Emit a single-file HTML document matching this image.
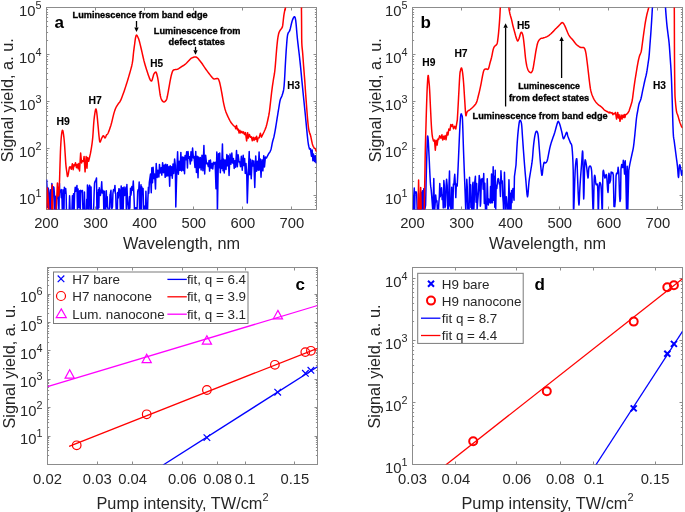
<!DOCTYPE html>
<html><head><meta charset="utf-8"><style>
html,body{margin:0;padding:0;background:#fff;}
svg{display:block;}
</style></head><body>
<svg width="685" height="512" viewBox="0 0 685 512" font-family="&quot;Liberation Sans&quot;, sans-serif">
<rect width="685" height="512" fill="#fff"/>
<rect x="46.5" y="7.5" width="270.0" height="202.0" fill="none" stroke="#8c8c8c" stroke-width="1"/>
<path d="M95.5,209.5v-3M95.5,7.5v3M144.5,209.5v-3M144.5,7.5v3M193.5,209.5v-3M193.5,7.5v3M242.5,209.5v-3M242.5,7.5v3M291.5,209.5v-3M291.5,7.5v3" stroke="#8c8c8c" stroke-width="1" fill="none"/>
<path d="M46.5,195.5h3M316.5,195.5h-3M46.5,148.5h3M316.5,148.5h-3M46.5,101.5h3M316.5,101.5h-3M46.5,54.5h3M316.5,54.5h-3" stroke="#8c8c8c" stroke-width="1" fill="none"/>
<path d="M46.5,205.5h1.6M316.5,205.5h-1.6M46.5,202.5h1.6M316.5,202.5h-1.6M46.5,200.5h1.6M316.5,200.5h-1.6M46.5,197.5h1.6M316.5,197.5h-1.6M46.5,181.5h1.6M316.5,181.5h-1.6M46.5,173.5h1.6M316.5,173.5h-1.6M46.5,167.5h1.6M316.5,167.5h-1.6M46.5,162.5h1.6M316.5,162.5h-1.6M46.5,158.5h1.6M316.5,158.5h-1.6M46.5,155.5h1.6M316.5,155.5h-1.6M46.5,153.5h1.6M316.5,153.5h-1.6M46.5,150.5h1.6M316.5,150.5h-1.6M46.5,134.5h1.6M316.5,134.5h-1.6M46.5,126.5h1.6M316.5,126.5h-1.6M46.5,120.5h1.6M316.5,120.5h-1.6M46.5,115.5h1.6M316.5,115.5h-1.6M46.5,111.5h1.6M316.5,111.5h-1.6M46.5,108.5h1.6M316.5,108.5h-1.6M46.5,106.5h1.6M316.5,106.5h-1.6M46.5,103.5h1.6M316.5,103.5h-1.6M46.5,87.5h1.6M316.5,87.5h-1.6M46.5,79.5h1.6M316.5,79.5h-1.6M46.5,73.5h1.6M316.5,73.5h-1.6M46.5,68.5h1.6M316.5,68.5h-1.6M46.5,64.5h1.6M316.5,64.5h-1.6M46.5,61.5h1.6M316.5,61.5h-1.6M46.5,59.5h1.6M316.5,59.5h-1.6M46.5,56.5h1.6M316.5,56.5h-1.6M46.5,40.5h1.6M316.5,40.5h-1.6M46.5,32.5h1.6M316.5,32.5h-1.6M46.5,26.5h1.6M316.5,26.5h-1.6M46.5,21.5h1.6M316.5,21.5h-1.6M46.5,17.5h1.6M316.5,17.5h-1.6M46.5,14.5h1.6M316.5,14.5h-1.6M46.5,12.5h1.6M316.5,12.5h-1.6M46.5,9.5h1.6M316.5,9.5h-1.6" stroke="#8c8c8c" stroke-width="1" fill="none"/>
<text x="46.5" y="227.6" font-size="14.8" text-anchor="middle" font-weight="normal" fill="#262626" >200</text>
<text x="95.59" y="227.6" font-size="14.8" text-anchor="middle" font-weight="normal" fill="#262626" >300</text>
<text x="144.68" y="227.6" font-size="14.8" text-anchor="middle" font-weight="normal" fill="#262626" >400</text>
<text x="193.77" y="227.6" font-size="14.8" text-anchor="middle" font-weight="normal" fill="#262626" >500</text>
<text x="242.86" y="227.6" font-size="14.8" text-anchor="middle" font-weight="normal" fill="#262626" >600</text>
<text x="291.95" y="227.6" font-size="14.8" text-anchor="middle" font-weight="normal" fill="#262626" >700</text>
<text x="41.5" y="203.6" font-size="14.8" text-anchor="end" fill="#262626">10<tspan font-size="10.8" dy="-7">1</tspan></text>
<text x="41.5" y="156.6" font-size="14.8" text-anchor="end" fill="#262626">10<tspan font-size="10.8" dy="-7">2</tspan></text>
<text x="41.5" y="109.6" font-size="14.8" text-anchor="end" fill="#262626">10<tspan font-size="10.8" dy="-7">3</tspan></text>
<text x="41.5" y="62.6" font-size="14.8" text-anchor="end" fill="#262626">10<tspan font-size="10.8" dy="-7">4</tspan></text>
<text x="41.5" y="15.6" font-size="14.8" text-anchor="end" fill="#262626">10<tspan font-size="10.8" dy="-7">5</tspan></text>
<rect x="412.5" y="7.5" width="270.0" height="202.0" fill="none" stroke="#8c8c8c" stroke-width="1"/>
<path d="M461.5,209.5v-3M461.5,7.5v3M510.5,209.5v-3M510.5,7.5v3M559.5,209.5v-3M559.5,7.5v3M608.5,209.5v-3M608.5,7.5v3M657.5,209.5v-3M657.5,7.5v3" stroke="#8c8c8c" stroke-width="1" fill="none"/>
<path d="M412.5,195.5h3M682.5,195.5h-3M412.5,148.5h3M682.5,148.5h-3M412.5,101.5h3M682.5,101.5h-3M412.5,54.5h3M682.5,54.5h-3" stroke="#8c8c8c" stroke-width="1" fill="none"/>
<path d="M412.5,205.5h1.6M682.5,205.5h-1.6M412.5,202.5h1.6M682.5,202.5h-1.6M412.5,200.5h1.6M682.5,200.5h-1.6M412.5,197.5h1.6M682.5,197.5h-1.6M412.5,181.5h1.6M682.5,181.5h-1.6M412.5,173.5h1.6M682.5,173.5h-1.6M412.5,167.5h1.6M682.5,167.5h-1.6M412.5,162.5h1.6M682.5,162.5h-1.6M412.5,158.5h1.6M682.5,158.5h-1.6M412.5,155.5h1.6M682.5,155.5h-1.6M412.5,153.5h1.6M682.5,153.5h-1.6M412.5,150.5h1.6M682.5,150.5h-1.6M412.5,134.5h1.6M682.5,134.5h-1.6M412.5,126.5h1.6M682.5,126.5h-1.6M412.5,120.5h1.6M682.5,120.5h-1.6M412.5,115.5h1.6M682.5,115.5h-1.6M412.5,111.5h1.6M682.5,111.5h-1.6M412.5,108.5h1.6M682.5,108.5h-1.6M412.5,106.5h1.6M682.5,106.5h-1.6M412.5,103.5h1.6M682.5,103.5h-1.6M412.5,87.5h1.6M682.5,87.5h-1.6M412.5,79.5h1.6M682.5,79.5h-1.6M412.5,73.5h1.6M682.5,73.5h-1.6M412.5,68.5h1.6M682.5,68.5h-1.6M412.5,64.5h1.6M682.5,64.5h-1.6M412.5,61.5h1.6M682.5,61.5h-1.6M412.5,59.5h1.6M682.5,59.5h-1.6M412.5,56.5h1.6M682.5,56.5h-1.6M412.5,40.5h1.6M682.5,40.5h-1.6M412.5,32.5h1.6M682.5,32.5h-1.6M412.5,26.5h1.6M682.5,26.5h-1.6M412.5,21.5h1.6M682.5,21.5h-1.6M412.5,17.5h1.6M682.5,17.5h-1.6M412.5,14.5h1.6M682.5,14.5h-1.6M412.5,12.5h1.6M682.5,12.5h-1.6M412.5,9.5h1.6M682.5,9.5h-1.6" stroke="#8c8c8c" stroke-width="1" fill="none"/>
<text x="412.5" y="227.6" font-size="14.8" text-anchor="middle" font-weight="normal" fill="#262626" >200</text>
<text x="461.59" y="227.6" font-size="14.8" text-anchor="middle" font-weight="normal" fill="#262626" >300</text>
<text x="510.68" y="227.6" font-size="14.8" text-anchor="middle" font-weight="normal" fill="#262626" >400</text>
<text x="559.77" y="227.6" font-size="14.8" text-anchor="middle" font-weight="normal" fill="#262626" >500</text>
<text x="608.86" y="227.6" font-size="14.8" text-anchor="middle" font-weight="normal" fill="#262626" >600</text>
<text x="657.95" y="227.6" font-size="14.8" text-anchor="middle" font-weight="normal" fill="#262626" >700</text>
<text x="407.5" y="203.6" font-size="14.8" text-anchor="end" fill="#262626">10<tspan font-size="10.8" dy="-7">1</tspan></text>
<text x="407.5" y="156.6" font-size="14.8" text-anchor="end" fill="#262626">10<tspan font-size="10.8" dy="-7">2</tspan></text>
<text x="407.5" y="109.6" font-size="14.8" text-anchor="end" fill="#262626">10<tspan font-size="10.8" dy="-7">3</tspan></text>
<text x="407.5" y="62.6" font-size="14.8" text-anchor="end" fill="#262626">10<tspan font-size="10.8" dy="-7">4</tspan></text>
<text x="407.5" y="15.6" font-size="14.8" text-anchor="end" fill="#262626">10<tspan font-size="10.8" dy="-7">5</tspan></text>
<text transform="translate(13.2,100.2) rotate(-90)" x="0" y="0" font-size="16.3" text-anchor="middle" fill="#262626">Signal yield, a. u.</text>
<text transform="translate(381.3,100.2) rotate(-90)" x="0" y="0" font-size="16.3" text-anchor="middle" fill="#262626">Signal yield, a. u.</text>
<text x="181.5" y="248.7" font-size="16.3" text-anchor="middle" font-weight="normal" fill="#262626" >Wavelength, nm</text>
<text x="547.5" y="248.7" font-size="16.3" text-anchor="middle" font-weight="normal" fill="#262626" >Wavelength, nm</text>
<defs><clipPath id="ca"><rect x="46.5" y="7.5" width="270" height="202"/></clipPath><clipPath id="cb"><rect x="412.5" y="7.5" width="270" height="202"/></clipPath><clipPath id="cc"><rect x="47.5" y="267.5" width="270" height="197"/></clipPath><clipPath id="cd"><rect x="412.5" y="267.5" width="270" height="197"/></clipPath></defs>
<g clip-path="url(#ca)" fill="none" stroke-width="1.5" stroke-linejoin="round">
<path d="M46.6,179.5 L47.19,190.03 L47.68,207.36 L48.15,187.99 L48.72,189.93 L49.28,197.96 L49.72,213.02 L50.21,195.51 L50.67,189.69 L51.3,209.58 L51.88,183.49 L52.42,211.14 L53,194.36 L53.47,186.83 L53.91,187.48 L54.38,193.21 L54.95,217.05 L55.36,196.2 L55.9,215.44 L56.49,210.43 L56.86,197.33 L57.25,198.57 L57.89,192.57 L58.45,187.4 L58.91,214.03 L59.42,183.21 L59.81,191.97 L60.28,189.9 L60.69,190.5 L61.31,197.74 L61.8,189.47 L62.43,217.37 L63.03,215.84 L63.46,190.11 L63.98,212.99 L64.36,187.34 L64.74,188.96 L65.29,193.17 L65.71,188.5 L66.16,194.83 L66.55,216.62 L67.2,212.45 L67.82,213.06 L68.22,212.46 L68.57,210.99 L69.17,210.86 L69.6,195.68 L70.18,212.2 L70.58,212.78 L71.22,210.08 L71.8,213.96 L72.41,195.71 L72.96,213.38 L73.55,193.81 L74.16,210.69 L74.61,193.94 L75.23,187.3 L75.85,191.19 L76.39,190.15 L76.96,185.61 L77.44,209.36 L78.06,188.92 L78.59,207.62 L79.13,193.77 L79.69,190.64 L80.24,212.93 L80.8,190.2 L81.43,191.89 L82.03,191.72 L82.44,190.45 L83.06,215.62 L83.68,212.73 L84.09,216.91 L84.44,192.06 L84.84,212.24 L85.3,214.96 L85.67,211.92 L86.22,214.81 L86.73,199.3 L87.08,208.78 L87.45,184.94 L87.93,187.92 L88.29,197.87 L88.64,213.54 L89.23,189 L89.59,185.18 L90.01,186.68 L90.45,213.11 L91.07,187.02 L91.46,214.77 L91.9,217.5 L92.27,215.11 L92.77,215.12 L93.14,211 L93.63,208.46 L94.14,192.8 L94.55,183.21 L95.11,181.26 L95.7,180.91 L96.5,178 L96.95,212.36 L97.45,192.67 L97.83,213.54 L98.4,189.73 L98.86,207.77 L99.27,187.87 L99.91,192.97 L100.41,195.41 L100.97,191.64 L101.33,187.46 L101.72,181.77 L102.2,192.99 L102.81,190.3 L103.38,191.28 L103.85,212.93 L104.47,191.3 L104.83,214.15 L105.35,215.74 L105.89,206.47 L106.29,190.63 L106.79,206.44 L107.23,196.64 L107.58,206.59 L108.09,209.37 L108.64,211.99 L109.07,215.14 L109.53,210.43 L110.04,194.65 L110.41,193.5 L110.98,190.29 L111.45,207.39 L111.9,208.82 L112.47,206.82 L112.94,193.1 L113.52,189.51 L113.92,190.68 L114.51,190.87 L114.94,185.38 L115.34,193.14 L115.7,192.98 L116.34,216.77 L116.91,213.73 L117.27,216.13 L117.72,192.43 L118.26,197.89 L118.86,188.86 L119.4,188.92 L119.84,193.2 L120.45,213.26 L120.82,194.98 L121.21,185.9 L121.77,208.76 L122.27,209.35 L122.71,187.83 L123.06,214.72 L123.54,193.04 L124.09,186.98 L124.68,195.4 L125.08,193.98 L125.48,190.54 L125.96,187.27 L126.33,209.63 L126.89,184.46 L127.33,195.81 L127.7,201.3 L128.26,207.63 L128.61,217.35 L129.11,213.17 L129.47,196.72 L129.86,208.21 L130.51,188.14 L130.91,195.16 L131.34,192.37 L131.83,186.6 L132.23,189.34 L132.68,190.21 L133.28,180.93 L133.92,194.65 L134.55,211.73 L135.06,210.44 L135.69,207.65 L136.05,212.39 L136.66,213.23 L137.16,207.17 L137.7,191.38 L138.23,189.57 L138.78,189.59 L139.18,181.96 L139.61,217.3 L140.17,206.04 L140.62,188.53 L141.01,184.86 L141.38,210.71 L141.87,187.07 L142.48,194.29 L143.07,188.48 L143.71,213.56 L144.32,217.21 L144.93,206.07 L145.54,215.54 L145.9,191.34 L146.38,208.29 L146.92,210.79 L147.36,217.08 L147.88,199.02 L148.42,187.29 L148.82,193.16 L149.33,182.36 L150.5,174.09 L151.26,192.83 L151.82,167.7 L152.51,182.77 L153.11,167.18 L153.88,178.52 L154.62,174.09 L155.5,188.94 L156.2,163.62 L157.14,177.56 L157.94,170.21 L158.89,177.04 L159.47,164.4 L160.22,172.91 L161.18,167.7 L161.8,175.11 L162.61,162.67 L163.4,172.75 L164.34,164.88 L165.17,177.36 L165.8,164.13 L166.67,176.09 L167.4,164.71 L168,175.82 L168.96,166.69 L169.66,186.26 L170.2,165.7 L170.97,175.6 L171.62,166.64 L172.3,178.25 L173.02,163.97 L173.72,173.39 L174.61,159 L175.31,165.22 L175.8,207 L176.81,171.34 L177.61,151.66 L178.37,174.26 L179.21,161.29 L180.05,170.35 L180.86,152.39 L181.61,170.96 L182.42,156.96 L183.23,170.55 L183.85,157.26 L184.55,173.8 L185.12,155.45 L185.87,159.71 L186.66,151.7 L187.45,167.98 L188.04,151.55 L188.71,158.31 L189.47,156.79 L190.33,164.05 L190.98,151.82 L191.69,160.78 L192.58,148.06 L193.39,158 L194.04,156.45 L194.97,167.45 L195.75,151.44 L196.43,172.45 L197.22,156.28 L198.03,177.83 L198.6,156.96 L199.56,167.7 L200.25,157.42 L201.12,169.95 L202,155.14 L202.95,170.67 L203.91,145.41 L204.67,173.94 L205.64,155.3 L206.54,163.71 L207.41,163.07 L208.35,166.48 L209.04,160.55 L209.6,171.12 L210.44,160.11 L211.25,168.17 L212.06,163.6 L212.77,168.91 L213.46,162.3 L214.2,163.99 L215.12,162.2 L216,188.77 L216.82,151.95 L217.4,212 L218.46,153.87 L219.2,167.8 L219.74,153.07 L220.34,172.73 L221,160.6 L221.58,168.44 L222.45,143.9 L223.03,170.8 L223.67,159.18 L224.25,172.92 L225.18,159.91 L226.01,169.54 L226.85,154.53 L227.47,165.64 L228.23,155.79 L229.07,175.5 L230.02,154.05 L230.94,164.24 L231.83,153.07 L232.57,163 L233.45,158.55 L234.19,168.49 L234.88,160.81 L235.64,167.14 L236.51,150.61 L237.36,166.67 L238.12,154.77 L239.06,162 L239.7,161.71 L240.51,166.63 L241.35,156.3 L242.25,170.3 L243.19,155.29 L243.73,165.51 L244.63,158.46 L245.26,173.38 L245.98,163.4 L246.75,174.63 L247.3,203 L248.37,170.78 L249.21,151.59 L249.73,174.66 L250.36,159.13 L251.23,178.74 L252.18,160.19 L252.89,166.03 L253.82,160.87 L254.77,187.44 L255.7,155.91 L256.6,171.23 L257.46,161.16 L258.27,170.21 L259.1,152.09 L259.64,170.04 L260.26,158.91 L261.02,177.26 L261.96,159.69 L262.88,170.87 L263.75,155.65 L264.47,166.97 L265.4,157 L266.5,158 L266.85,157.28 L267.36,156.25 L267.93,155.09 L268.5,154 L269.07,153.09 L269.67,152.25 L270.26,151.28 L270.8,150 L271.27,148.22 L271.7,146.09 L272.1,143.92 L272.5,142 L272.89,140.52 L273.26,139.28 L273.62,138.03 L274,136.5 L274.39,134.64 L274.79,132.58 L275.19,130.36 L275.6,128 L276.02,125.42 L276.46,122.64 L276.89,119.84 L277.3,117.2 L277.69,114.76 L278.07,112.43 L278.44,110.18 L278.8,108 L279.14,105.85 L279.46,103.76 L279.8,101.79 L280.2,100 L280.71,98.54 L281.28,97.34 L281.87,96.11 L282.4,94.6 L282.86,93.08 L283.29,91.57 L283.7,89.43 L284.1,86 L284.5,80.51 L284.89,73.51 L285.26,66.31 L285.6,60.2 L285.88,55.55 L286.13,51.65 L286.35,48.23 L286.6,45 L286.84,41.88 L287.07,39.02 L287.35,36.5 L287.7,34.4 L288.17,32.98 L288.74,32.12 L289.33,31.33 L289.9,30.1 L290.43,28.16 L290.95,25.82 L291.47,23.48 L292,21.5 L292.56,19.86 L293.14,18.39 L293.7,17.3 L294.2,16.8 L294.62,16.77 L294.98,17.16 L295.33,18.27 L295.7,20.4 L296.09,23.84 L296.48,28.36 L296.91,33.48 L297.4,38.7 L297.99,43.95 L298.64,49.48 L299.33,55.27 L300,61.3 L300.65,67.67 L301.29,74.35 L301.94,81.16 L302.6,87.9 L303.27,94.55 L303.95,101.21 L304.63,107.86 L305.3,114.5 L305.98,121.57 L306.67,128.91 L307.32,135.68 L307.9,141 L308.41,144.49 L308.86,146.66 L309.24,148 L309.5,149 L310.5,148.82 L311.45,156.15 L312.14,149.89 L312.89,160.68 L313.47,154.04 L314.51,161.43 L315.18,155.85 L316.21,163.42" stroke="#0000ff"/>
<path d="M46.6,212 L47.3,188 L48.2,199 L49,212 L50.5,213 L51.6,212 L52.2,185 L52.9,212 L54.5,213 L55.8,212 L56.5,204 L57.4,183 L58.2,196 L58.8,195 L58.8,195 L58.91,193.44 L59.06,191.25 L59.24,188.44 L59.4,185 L59.55,180.63 L59.7,175.44 L59.85,170.02 L60,165 L60.15,160.42 L60.29,156 L60.44,151.83 L60.6,148 L60.78,144.5 L60.98,141.29 L61.18,138.44 L61.4,136 L61.64,133.94 L61.89,132.23 L62.15,130.99 L62.4,130.3 L62.63,130.25 L62.85,130.76 L63.07,131.72 L63.3,133 L63.55,134.65 L63.81,136.7 L64.06,139.03 L64.3,141.5 L64.51,144.15 L64.71,147.03 L64.9,150.02 L65.1,153 L65.3,156.08 L65.49,159.28 L65.69,162.34 L65.9,165 L66.12,167.16 L66.36,168.97 L66.59,170.54 L66.8,172 L66.99,173.46 L67.16,174.84 L67.32,175.93 L67.5,176.5 L67.69,176.47 L67.88,175.95 L68.08,175.08 L68.3,174 L68.58,172.46 L68.9,170.49 L69.2,168.6 L69.4,167.3 L70.2,166.69 L71.28,169.34 L72.36,163.65 L73.17,169.64 L73.97,164.74 L74.58,165.88 L75.45,162.7 L76.45,167.67 L77.28,164.22 L78.08,168.65 L78.8,163.57 L79.54,170.99 L80.64,153.09 L81.6,162.98 L82.34,160.69 L83.43,161.45 L84.08,156.39 L85.07,171.87 L86.14,156.59 L87,168.22 L87.63,157.53 L88.66,161.33 L90.5,153.2 L90.72,151.95 L91.03,150.17 L91.38,148.11 L91.7,146 L91.98,144.02 L92.25,142 L92.52,139.68 L92.8,136.8 L93.08,132.99 L93.36,128.5 L93.66,123.96 L94,120 L94.4,116.54 L94.86,113.31 L95.31,110.73 L95.7,109.2 L96.01,108.93 L96.28,109.67 L96.53,111.12 L96.8,113 L97.1,115.47 L97.41,118.61 L97.71,121.96 L98,125.1 L98.27,128.02 L98.52,130.93 L98.76,133.65 L99,136 L99.23,138.03 L99.44,139.81 L99.66,141.18 L99.9,142 L100.17,142.06 L100.46,141.5 L100.74,140.69 L101,140 L101.2,139.51 L101.37,139.02 L101.55,138.52 L101.8,138 L102.14,137.34 L102.55,136.58 L102.98,135.96 L103.4,135.7 L103.8,136.08 L104.21,136.89 L104.61,137.69 L105,138 L105.38,137.59 L105.76,136.75 L106.13,135.78 L106.5,135 L106.86,134.57 L107.22,134.29 L107.59,133.95 L108,133.3 L108.47,132.23 L108.99,130.87 L109.52,129.4 L110,128 L110.41,126.79 L110.78,125.66 L111.16,124.39 L111.6,122.8 L112.13,120.66 L112.72,118.14 L113.32,115.6 L113.9,113.4 L114.43,111.63 L114.94,110.11 L115.45,108.76 L116,107.5 L116.61,106.34 L117.26,105.31 L117.9,104.37 L118.5,103.5 L119.01,102.83 L119.47,102.33 L119.94,101.72 L120.5,100.7 L121.18,99.14 L121.94,97.22 L122.73,95.11 L123.5,93 L124.23,90.93 L124.94,88.81 L125.66,86.61 L126.4,84.3 L127.17,81.85 L127.96,79.28 L128.74,76.65 L129.5,74 L130.26,71.34 L131.01,68.66 L131.71,65.94 L132.3,63.2 L132.74,60.34 L133.06,57.39 L133.33,54.55 L133.6,52 L133.87,49.84 L134.12,47.96 L134.36,46.22 L134.6,44.5 L134.83,42.72 L135.05,40.96 L135.27,39.35 L135.5,38 L135.74,36.91 L135.97,36.03 L136.23,35.4 L136.5,35.1 L136.8,35.19 L137.12,35.62 L137.45,36.26 L137.8,37 L138.14,37.74 L138.49,38.56 L138.87,39.6 L139.3,41 L139.79,42.85 L140.34,45.07 L140.91,47.5 L141.5,50 L142.1,52.65 L142.73,55.47 L143.37,58.29 L144,60.9 L144.63,63.26 L145.27,65.47 L145.9,67.54 L146.5,69.5 L147.09,71.35 L147.66,73.09 L148.2,74.69 L148.7,76.1 L149.15,77.34 L149.55,78.41 L149.93,79.31 L150.3,80 L150.67,80.53 L151.02,80.88 L151.36,81 L151.7,80.8 L152.04,80.16 L152.38,79.15 L152.7,78.02 L153,77 L153.25,76.12 L153.46,75.27 L153.69,74.48 L154,73.8 L154.43,73.16 L154.94,72.57 L155.46,72.17 L155.9,72.1 L156.23,72.46 L156.51,73.16 L156.75,74.05 L157,75 L157.25,75.94 L157.49,76.96 L157.74,78.14 L158,79.6 L158.29,81.44 L158.59,83.59 L158.9,85.84 L159.2,88 L159.49,90.11 L159.78,92.24 L160.07,94.26 L160.4,96 L160.76,97.44 L161.16,98.66 L161.57,99.67 L162,100.5 L162.46,101.12 L162.95,101.54 L163.44,101.78 L163.9,101.9 L164.33,101.88 L164.73,101.7 L165.12,101.4 L165.5,101 L165.85,100.63 L166.19,100.23 L166.53,99.57 L166.9,98.4 L167.32,96.53 L167.78,94.12 L168.25,91.51 L168.7,89 L169.14,86.57 L169.57,84.09 L170,81.72 L170.4,79.6 L170.77,77.77 L171.12,76.16 L171.46,74.74 L171.8,73.5 L172.13,72.44 L172.44,71.57 L172.79,70.86 L173.2,70.3 L173.71,69.92 L174.29,69.72 L174.9,69.62 L175.5,69.5 L176.08,69.41 L176.65,69.38 L177.25,69.31 L177.9,69.1 L178.6,68.71 L179.35,68.19 L180.15,67.6 L181,67 L181.96,66.39 L183.01,65.75 L184.05,65.08 L185,64.4 L185.82,63.7 L186.58,62.97 L187.29,62.23 L188,61.5 L188.73,60.73 L189.45,59.94 L190.15,59.2 L190.8,58.6 L191.39,58.19 L191.92,57.91 L192.44,57.7 L193,57.5 L193.62,57.28 L194.28,57.08 L194.92,56.93 L195.5,56.9 L196,57 L196.45,57.19 L196.87,57.47 L197.3,57.8 L197.7,58.16 L198.08,58.57 L198.49,59.07 L199,59.7 L199.66,60.5 L200.43,61.44 L201.23,62.46 L202,63.5 L202.7,64.53 L203.38,65.59 L204.09,66.7 L204.9,67.9 L205.84,69.23 L206.88,70.66 L207.95,72.11 L209,73.5 L210.06,74.9 L211.16,76.33 L212.19,77.59 L213.1,78.5 L213.82,78.92 L214.41,78.98 L214.95,78.88 L215.5,78.8 L216.11,78.71 L216.73,78.54 L217.3,78.43 L217.8,78.5 L218.18,78.8 L218.48,79.24 L218.73,79.82 L219,80.5 L219.27,81.21 L219.52,81.98 L219.79,82.96 L220.1,84.3 L220.48,86.1 L220.91,88.26 L221.35,90.61 L221.8,93 L222.25,95.5 L222.7,98.16 L223.15,100.77 L223.6,103.1 L224.03,105.1 L224.45,106.88 L224.87,108.5 L225.3,110 L225.75,111.39 L226.21,112.63 L226.67,113.76 L227.1,114.8 L227.47,115.68 L227.81,116.42 L228.17,117.15 L228.6,118 L229.12,119.06 L229.71,120.23 L230.34,121.41 L231,122.5 L231.78,123.53 L232.65,124.53 L233.45,125.39 L234,126 L235,126.72 L235.79,128.85 L236.47,125.43 L237.49,129.89 L238.15,129 L239.14,133.12 L239.85,130.24 L240.84,132.86 L241.81,131.35 L242.81,133.08 L243.54,131.82 L244.45,134.55 L245.5,132.6 L246.63,140.88 L247.63,132.65 L248.32,138.13 L249.43,134.58 L250.51,137.33 L251.36,136.76 L252.31,140.77 L253.18,137.34 L254.14,140.36 L255.04,137.56 L255.85,139.42 L256.6,136.19 L257.25,141.74 L258.13,137.9 L259.21,137.79 L260.37,133.31 L261.41,137.12 L264,132 L264.4,131.06 L264.99,129.72 L265.63,128.14 L266.2,126.5 L266.69,124.78 L267.14,122.91 L267.58,120.96 L268,119 L268.38,117.28 L268.73,115.69 L269.09,113.75 L269.5,111 L269.99,106.95 L270.54,101.97 L271.1,96.88 L271.6,92.5 L272.04,89.1 L272.43,86.22 L272.81,83.61 L273.2,81 L273.61,78.49 L274.02,76.16 L274.43,73.75 L274.8,71 L275.13,67.73 L275.44,64.11 L275.72,60.44 L276,57 L276.26,53.81 L276.51,50.74 L276.75,47.85 L277,45.2 L277.25,42.81 L277.49,40.66 L277.74,38.72 L278,37 L278.26,35.53 L278.51,34.31 L278.79,33.26 L279.1,32.3 L279.46,31.46 L279.86,30.77 L280.28,30.14 L280.7,29.5 L281.14,28.91 L281.6,28.39 L282.04,27.78 L282.4,26.9 L282.67,25.66 L282.86,24.16 L283.03,22.55 L283.2,21 L283.37,19.53 L283.53,18.06 L283.7,16.59 L283.9,15.1 L284.15,13.61 L284.43,12.12 L284.72,10.59 L285,9 L285.12,9.07 L285.13,10.24 L285.33,9.04 L286,2 L287.31,-17.07 L289.07,-44.56 L291.05,-69.27 L293,-80 L295.09,-69.24 L297.36,-44.47 L299.42,-16.96 L300.9,2 L301.55,8.47 L301.63,8.78 L301.47,7.07 L301.4,7.5 L301.47,11.02 L301.52,15.47 L301.56,20.31 L301.6,25 L301.63,29.64 L301.66,34.44 L301.7,39.02 L301.8,43 L301.98,46.11 L302.21,48.59 L302.46,50.91 L302.7,53.5 L302.92,56.45 L303.14,59.54 L303.36,62.73 L303.6,66 L303.87,69.4 L304.15,72.91 L304.43,76.45 L304.7,79.9 L304.94,83.22 L305.16,86.48 L305.37,89.72 L305.6,93 L305.85,96.39 L306.1,99.85 L306.35,103.26 L306.6,106.5 L306.83,109.56 L307.05,112.48 L307.27,115.29 L307.5,118 L307.74,120.69 L307.99,123.32 L308.25,125.75 L308.5,127.8 L308.75,129.37 L308.99,130.56 L309.24,131.55 L309.5,132.5 L309.77,133.38 L310.06,134.12 L310.34,134.86 L310.6,135.7 L310.84,136.7 L311.06,137.8 L311.28,138.92 L311.5,140 L311.73,141.06 L311.95,142.12 L312.17,143.12 L312.4,144 L312.62,144.73 L312.84,145.35 L313.07,145.89 L313.3,146.4 L313.54,146.87 L313.79,147.29 L314.04,147.66 L314.3,148 L314.57,148.25 L314.84,148.41 L315.12,148.62 L315.4,149 L315.72,149.68 L316.07,150.56 L316.38,151.41 L316.6,152" stroke="#ff0000"/>
</g>
<g clip-path="url(#cb)" fill="none" stroke-width="1.5" stroke-linejoin="round">
<path d="M412.6,213.68 L412.94,211.39 L413.28,209.58 L413.78,195.8 L414.28,188.1 L414.69,211.52 L415.01,191.6 L415.49,192.76 L415.85,192.85 L416.27,192.04 L416.66,194.32 L417.22,211.21 L417.76,208.1 L418.25,208.61 L418.72,208.14 L419.04,210.71 L419.59,208.35 L419.96,214.01 L420.43,193.59 L420.81,214.43 L421.16,192.31 L421.66,213.51 L422.15,214.66 L422.47,190.75 L423.02,213.76 L423.34,215.99 L423.73,188.65 L424.14,192.72 L424.61,210.79 L425.6,205 L425.75,198.36 L425.96,188.75 L426.2,178.52 L426.4,170 L426.57,163.79 L426.72,158.65 L426.86,154.18 L427,150 L427.13,145.79 L427.24,141.84 L427.36,138.61 L427.5,136.6 L427.66,136 L427.83,136.52 L428.01,137.94 L428.2,140 L428.38,142.66 L428.56,146.04 L428.76,150.16 L429,155 L429.3,161.28 L429.64,168.77 L429.99,176.04 L430.3,181.7 L430.56,185.03 L430.78,186.89 L430.99,188.24 L431.2,190 L431.4,192.33 L431.6,194.77 L431.8,197.32 L432,200 L432.24,203.14 L432.5,206.62 L432.74,209.8 L432.9,212 L433.8,178.44 L434.44,213.07 L435.13,204.18 L435.67,195.12 L436.33,201.63 L436.95,200.87 L437.59,213.54 L438.28,214.39 L438.7,205.03 L439.34,196.31 L439.77,183.52 L440.28,196.65 L440.97,193.42 L441.55,187.81 L442.19,199.61 L442.81,195.15 L443.26,207.95 L443.84,180.56 L444.23,184.56 L444.91,207.72 L445.49,205.72 L446.05,186.83 L446.57,179.2 L447.19,185.24 L447.87,212.75 L448.42,210.36 L449.08,183.33 L449.5,171 L450.09,205.86 L450.59,206.95 L451.16,210.73 L451.71,187.22 L452.26,207.78 L452.91,208.63 L453.38,183.88 L453.85,184.74 L454.3,178.71 L454.76,174.26 L455.29,183.51 L455.81,197.62 L456.34,184.05 L457.2,186 L457.37,182.44 L457.62,177.38 L457.91,171.38 L458.2,165 L458.52,157.78 L458.86,149.62 L459.2,141.66 L459.5,135 L459.74,129.98 L459.94,125.99 L460.12,122.75 L460.3,120 L460.48,117.75 L460.65,116.11 L460.82,114.97 L461,114.2 L461.2,113.84 L461.4,113.93 L461.6,114.35 L461.8,115 L461.98,115.37 L462.14,115.67 L462.31,116.89 L462.5,120 L462.72,125.7 L462.97,133.33 L463.23,141.79 L463.5,150 L463.79,157.84 L464.09,165.83 L464.4,173.83 L464.7,181.7 L465.01,190.08 L465.32,198.83 L465.6,206.59 L465.8,212 L466.8,179.31 L467.23,186.53 L467.9,212.33 L468.39,212.37 L469.09,210.66 L469.52,177.24 L470,201.77 L470.48,184.87 L470.92,207.61 L471.39,197.87 L471.86,212.59 L472.5,185.06 L473.03,182.32 L473.45,215.73 L474.1,204.59 L474.73,182.25 L475.4,176.25 L476.08,202.16 L476.63,183.47 L477.11,209.36 L477.67,201.82 L478.11,196.36 L478.7,188.02 L479.21,175.43 L479.85,180.1 L480.32,206.16 L480.71,203.2 L481.39,179.1 L482.04,179.52 L482.7,178.62 L483.17,189.32 L483.73,173.41 L484.32,203.39 L484.83,183.14 L485.51,210.58 L486.04,215.15 L486.57,211.52 L487.26,178.87 L487.93,203.18 L488.33,204.95 L488.8,199.08 L489.45,199.33 L490.13,202.82 L490.55,186.48 L490.98,203.11 L491.53,174.06 L492.05,196.62 L492.47,202.65 L493.17,166.8 L493.74,200.32 L494.35,176.56 L494.78,207.2 L495.21,170.14 L495.71,209.89 L496.19,185.49 L496.83,188.5 L497.41,182.07 L497.9,178.93 L498.34,178.65 L498.78,179.68 L499.21,183.96 L499.77,182.79 L500.46,196.52 L500.93,170.79 L501.57,182.99 L502.27,180.93 L502.81,196.82 L503.27,202.61 L503.82,215.7 L504.46,172.17 L504.99,196.37 L505.43,200.83 L505.83,215.28 L506.36,196.79 L507,204.48 L507.54,205.5 L507.95,212.71 L508.34,209.2 L508.95,179.86 L509.5,201.61 L510.03,214.04 L510.58,193.26 L510.98,210.45 L511.55,190.62 L511.94,202.61 L512.36,193.38 L512.98,188.4 L513.5,195.49 L514.04,200.27 L514.44,176.5 L516,165 L516.21,160.88 L516.52,154.94 L516.86,148.52 L517.2,143 L517.52,138.58 L517.84,134.6 L518.17,131.07 L518.5,128 L518.82,125.32 L519.12,123.06 L519.45,121.36 L519.8,120.4 L520.21,120.22 L520.67,120.74 L521.11,121.92 L521.5,123.7 L521.79,126.24 L522.03,129.51 L522.25,133.19 L522.5,137 L522.79,141.01 L523.09,145.34 L523.4,149.7 L523.7,153.8 L523.98,157.59 L524.26,161.23 L524.53,164.69 L524.8,168 L525.04,170.95 L525.26,173.61 L525.5,176.37 L525.8,179.6 L526.18,184.26 L526.62,189.87 L527.07,194.64 L527.5,196.8 L527.89,195.17 L528.26,190.93 L528.63,185.85 L529,181.7 L529.37,178.94 L529.73,176.64 L530.1,174.45 L530.5,172 L530.95,169.21 L531.43,166.26 L531.9,163.23 L532.3,160.2 L532.6,157.11 L532.84,153.94 L533.06,150.86 L533.3,148 L533.57,145.39 L533.84,142.94 L534.12,140.7 L534.4,138.7 L534.67,136.93 L534.95,135.38 L535.23,134.07 L535.5,133 L535.78,132.2 L536.06,131.66 L536.34,131.34 L536.6,131.2 L536.84,131.24 L537.07,131.48 L537.29,131.91 L537.5,132.5 L537.7,133.11 L537.89,133.79 L538.08,134.86 L538.3,136.6 L538.56,139.32 L538.84,142.78 L539.12,146.5 L539.4,150 L539.65,153.16 L539.88,156.23 L540.12,159.29 L540.4,162.4 L540.75,166.06 L541.14,170.08 L541.54,173.48 L541.9,175.3 L542.2,174.86 L542.47,172.81 L542.73,170.18 L543,168 L543.27,166.34 L543.53,164.71 L543.8,163.32 L544.1,162.4 L544.42,162.19 L544.76,162.53 L545.11,162.94 L545.5,163 L545.92,162.67 L546.38,162.15 L546.85,161.36 L547.3,160.2 L547.74,158.5 L548.17,156.35 L548.59,154.08 L549,152 L549.38,150.19 L549.73,148.47 L550.09,146.82 L550.5,145.2 L550.96,143.62 L551.45,142.09 L551.97,140.57 L552.5,139 L553.07,137.35 L553.67,135.66 L554.26,133.96 L554.8,132.3 L555.27,130.65 L555.7,129.01 L556.1,127.44 L556.5,126 L556.9,124.62 L557.29,123.29 L557.66,122.2 L558,121.5 L558.28,121.31 L558.52,121.51 L558.75,121.96 L559,122.5 L559.28,123.1 L559.56,123.82 L559.87,124.72 L560.2,125.8 L560.57,127.13 L560.98,128.69 L561.39,130.35 L561.8,132 L562.2,133.86 L562.6,135.91 L563,137.67 L563.4,138.7 L563.8,138.71 L564.19,138 L564.59,136.97 L565,136 L565.43,134.97 L565.88,133.75 L566.31,132.73 L566.7,132.3 L567.02,132.73 L567.29,133.75 L567.55,134.97 L567.8,136 L568.04,136.71 L568.26,137.31 L568.5,137.94 L568.8,138.7 L569.18,139.66 L569.62,140.75 L570.07,141.89 L570.5,143 L570.9,143.64 L571.28,144 L571.65,144.93 L572,147.3 L572.34,151.23 L572.67,156.29 L572.96,162.54 L573.2,170 L573.33,181.11 L573.38,195.04 L573.43,206.95 L573.6,212 L573.92,206.68 L574.33,194.33 L574.77,180.3 L575.2,170 L575.62,164.32 L576.05,160.57 L576.46,158.74 L576.8,158.8 L577.04,161.28 L577.22,166.01 L577.38,171.94 L577.6,178 L577.89,185.28 L578.23,193.89 L578.58,201.3 L578.9,205 L579.18,203.56 L579.43,198.58 L579.69,192.06 L580,186 L580.37,180.4 L580.79,174.37 L581.22,168.58 L581.6,163.7 L581.94,158.74 L582.24,153.74 L582.53,150.9 L582.8,152.4 L583.04,161.94 L583.26,177.31 L583.47,191.87 L583.7,199 L583.95,194.68 L584.21,183.21 L584.49,170.38 L584.8,162 L585.16,159.77 L585.57,160.54 L585.99,162.87 L586.4,165.3 L586.82,168.33 L587.25,172.45 L587.66,176.17 L588,178 L588.25,177.02 L588.43,174.2 L588.59,170.9 L588.8,168.5 L589.07,167.27 L589.37,166.5 L589.68,166.11 L590,166 L590.33,166.11 L590.68,166.5 L591.01,167.27 L591.3,168.5 L591.51,169.81 L591.66,171.28 L591.8,173.74 L592,178 L592.27,186.33 L592.58,197.61 L592.9,207.59 L593.2,212 L593.47,207.92 L593.73,198.21 L593.97,187.32 L594.2,179.7 L594.41,176.48 L594.6,175.3 L594.79,175.4 L595,176 L595.22,177.43 L595.45,179.93 L595.7,182.58 L596,184.5 L596.38,184.79 L596.82,184.16 L597.25,184.07 L597.6,186 L597.83,192 L597.99,200.72 L598.13,208.58 L598.3,212 L598.51,208.62 L598.72,200.81 L598.96,192.1 L599.2,186 L599.46,183.4 L599.74,182.44 L600.03,182.51 L600.3,183 L600.56,183.7 L600.81,184.94 L601.05,186.96 L601.3,190 L601.56,195.91 L601.82,203.96 L602.07,210.53 L602.3,212 L602.47,205.21 L602.59,192.83 L602.75,179.96 L603,171.7 L603.4,170.22 L603.89,172.52 L604.42,175.99 L604.9,178 L605.32,177.4 L605.72,175.74 L606.11,174.44 L606.5,174.9 L606.9,178.71 L607.29,184.71 L607.67,190.2 L608,192.5 L608.27,189.61 L608.49,183.4 L608.7,176.94 L608.9,173.3 L609.13,173.9 L609.36,176.9 L609.56,180.5 L609.7,182.9 L610.5,180.6 L611.14,172.06 L611.89,172.96 L612.65,172.46 L613.31,174.99 L613.97,206.53 L614.75,206.63 L615.34,199.94 L616.05,176 L616.57,173.2 L617.14,173.73 L617.64,172.52 L618.13,167.25 L618.8,172.89 L619.58,196.15 L620.01,201.48 L620.54,198.63 L620.97,169.15 L621.66,164.55 L622.29,166.02 L622.78,167.52 L623.31,160.3 L623.81,162.9 L624.57,174.09 L625.25,160.72 L625.82,177.12 L626.51,209.54 L627.21,166.28 L627.68,213.79 L628.8,170 L629.05,168.63 L629.4,166.66 L629.8,164.46 L630.2,162.4 L630.59,160.54 L630.99,158.71 L631.4,156.87 L631.8,155 L632.21,153.13 L632.63,151.27 L633.04,149.34 L633.4,147.3 L633.71,145.1 L633.99,142.79 L634.24,140.41 L634.5,138 L634.76,135.55 L635.01,133.04 L635.25,130.52 L635.5,128 L635.75,125.43 L635.99,122.83 L636.24,120.3 L636.5,118 L636.78,115.99 L637.08,114.2 L637.39,112.51 L637.7,110.8 L638,109.03 L638.31,107.26 L638.63,105.56 L639,104 L639.44,102.66 L639.94,101.49 L640.45,100.33 L640.9,99 L641.27,97.53 L641.58,95.98 L641.91,94.27 L642.3,92.3 L642.8,89.95 L643.36,87.29 L643.94,84.57 L644.5,82 L645.05,79.66 L645.6,77.42 L646.13,75.22 L646.6,73 L647.01,70.73 L647.36,68.45 L647.69,66.19 L648,64 L648.3,61.98 L648.58,60.08 L648.85,58.08 L649.1,55.8 L649.34,53.1 L649.56,50.12 L649.78,47.03 L650,44 L650.23,41.11 L650.45,38.25 L650.67,35.32 L650.9,32.2 L651.13,28.73 L651.37,25.02 L651.6,21.35 L651.8,18 L651.97,15.09 L652.12,12.46 L652.26,9.97 L652.4,7.5 L652.42,7.13 L652.36,8.22 L652.47,6.57 L653,-2 L654.12,-24.87 L655.66,-57.72 L657.37,-87.21 L659,-100 L660.63,-87.21 L662.34,-57.72 L663.89,-24.87 L665,-2 L665.51,6.6 L665.58,8.28 L665.49,7.2 L665.5,7.5 L665.66,9.89 L665.83,12.29 L666.01,14.67 L666.2,17 L666.39,19.26 L666.58,21.48 L666.78,23.66 L667,25.8 L667.23,27.87 L667.48,29.89 L667.74,31.91 L668,34 L668.27,36.05 L668.54,38.08 L668.82,40.31 L669.1,43 L669.38,46.28 L669.65,49.99 L669.93,53.95 L670.2,58 L670.48,61.97 L670.76,65.99 L671.04,70.31 L671.3,75.2 L671.54,80.69 L671.76,86.66 L671.97,93.09 L672.2,100 L672.44,108.1 L672.69,117.16 L672.95,125.71 L673.2,132.3 L673.45,136.14 L673.69,138.14 L673.94,139.39 L674.2,141 L674.47,143.14 L674.74,145.26 L675.02,147.38 L675.3,149.5 L675.57,151.62 L675.85,153.74 L676.12,155.86 L676.4,158 L676.68,160.11 L676.96,162.21 L677.23,164.38 L677.5,166.7 L677.76,169.78 L678.01,173.37 L678.25,176.3 L678.5,177.4 L678.75,175.54 L678.99,171.63 L679.24,167.5 L679.5,165 L679.79,164.75 L680.09,165.72 L680.4,167.28 L680.7,168.8 L680.99,170.51 L681.28,172.62 L681.55,174.44 L681.8,175.3 L682.04,174.68 L682.27,173.06 L682.46,171.23 L682.6,170" stroke="#0000ff"/>
<path d="M418,213 L418.6,180 L419.3,213 L420.2,213 L420.7,187.5 L421.3,213 L423.5,214 L424.2,213 L424.2,213 L424.31,207 L424.47,198.38 L424.64,188.81 L424.8,180 L424.93,172.17 L425.04,164.5 L425.16,157.08 L425.3,150 L425.46,143.29 L425.64,136.91 L425.83,130.82 L426,125 L426.15,119.51 L426.3,114.34 L426.45,109.38 L426.6,104.5 L426.77,99.55 L426.94,94.62 L427.12,90.02 L427.3,86 L427.5,82.46 L427.7,79.31 L427.9,76.88 L428.1,75.5 L428.28,75.45 L428.45,76.5 L428.62,78.17 L428.8,80 L428.99,81.81 L429.19,83.88 L429.39,86.38 L429.6,89.5 L429.82,93.5 L430.04,98.22 L430.27,103.2 L430.5,108 L430.73,112.72 L430.95,117.53 L431.18,122.07 L431.4,126 L431.62,129.18 L431.83,131.81 L432.05,134.04 L432.3,136 L432.61,137.72 L432.96,139.12 L433.28,140.22 L433.5,141 L434.5,140.08 L435.32,150.15 L436.15,140.26 L437.12,145.09 L437.93,138.9 L438.62,139.5 L439.71,135.79 L440.87,138.24 L441.93,134.79 L442.67,140 L443.53,136.27 L444.23,139.2 L445.13,135.59 L446.05,139.72 L447.14,132.35 L448.01,134.9 L448.81,129.01 L449.92,130.32 L450.84,124.41 L451.62,126.38 L452.45,124.47 L453.56,128.79 L454.65,126.28 L455.77,129.01 L457.3,120 L457.45,117.51 L457.66,113.99 L457.91,109.61 L458.2,104.5 L458.55,97.89 L458.96,89.96 L459.36,82.33 L459.7,76.6 L459.94,73.46 L460.13,71.96 L460.3,71.26 L460.5,70.5 L460.74,69.47 L460.99,68.62 L461.25,68.08 L461.5,68 L461.75,68.38 L461.99,69.16 L462.24,70.36 L462.5,72 L462.77,74.12 L463.04,76.69 L463.32,79.66 L463.6,83 L463.88,86.87 L464.15,91.23 L464.43,95.73 L464.7,100 L464.98,104.37 L465.26,108.89 L465.53,112.79 L465.8,115.3 L466.05,115.84 L466.3,114.95 L466.55,113.53 L466.8,112.5 L467.06,112.02 L467.31,111.64 L467.59,111.31 L467.9,111 L468.26,110.72 L468.67,110.48 L469.09,110.25 L469.5,110 L469.87,109.75 L470.22,109.51 L470.61,109.22 L471.1,108.8 L471.74,108.23 L472.49,107.55 L473.27,106.79 L474,106 L474.66,105.27 L475.29,104.55 L475.9,103.66 L476.5,102.4 L477.1,100.65 L477.68,98.53 L478.25,96.24 L478.8,94 L479.33,91.84 L479.84,89.65 L480.33,87.44 L480.8,85.2 L481.25,82.85 L481.68,80.42 L482.1,78.08 L482.5,76 L482.88,74.18 L483.23,72.54 L483.59,71.16 L484,70.1 L484.46,69.46 L484.95,69.18 L485.47,69.09 L486,69 L486.57,69.06 L487.17,69.31 L487.76,69.4 L488.3,69 L488.77,67.92 L489.19,66.36 L489.6,64.63 L490,63 L490.41,61.58 L490.81,60.21 L491.2,58.78 L491.6,57.2 L492.01,55.3 L492.42,53.18 L492.82,51.14 L493.2,49.5 L493.52,48.41 L493.8,47.67 L494.1,47.1 L494.5,46.5 L495.05,45.94 L495.71,45.49 L496.37,44.95 L496.9,44.1 L497.27,42.93 L497.54,41.53 L497.76,39.89 L498,38 L498.26,35.8 L498.52,33.31 L498.77,30.66 L499,28 L499.22,25.29 L499.43,22.47 L499.63,19.67 L499.8,17 L499.94,14.59 L500.06,12.34 L500.17,10.05 L500.3,7.5 L500.4,5.58 L500.46,4.09 L500.62,1.18 L501,-5 L501.67,-18.34 L502.56,-36.72 L503.54,-52.99 L504.5,-60 L505.5,-52.99 L506.58,-36.72 L507.57,-18.34 L508.3,-5 L508.66,1.25 L508.77,4.28 L508.79,5.79 L508.9,7.5 L509.13,9.57 L509.39,11.19 L509.69,12.59 L510,14 L510.35,15.4 L510.73,16.69 L511.12,17.99 L511.5,19.4 L511.87,20.97 L512.24,22.64 L512.61,24.34 L513,26 L513.42,27.63 L513.86,29.27 L514.3,30.84 L514.7,32.3 L515.05,33.61 L515.36,34.8 L515.67,35.92 L516,37 L516.37,38.16 L516.76,39.33 L517.15,40.32 L517.5,40.9 L517.8,40.96 L518.07,40.62 L518.33,40.08 L518.6,39.5 L518.88,38.89 L519.17,38.16 L519.45,37.37 L519.7,36.6 L519.92,35.79 L520.11,34.94 L520.3,34.15 L520.5,33.5 L520.72,33.01 L520.94,32.63 L521.17,32.39 L521.4,32.3 L521.62,32.36 L521.84,32.57 L522.07,32.94 L522.3,33.5 L522.54,34.2 L522.79,35.04 L523.04,36.13 L523.3,37.6 L523.57,39.54 L523.84,41.87 L524.12,44.41 L524.4,47 L524.68,49.74 L524.96,52.68 L525.23,55.53 L525.5,58 L525.75,59.99 L526,61.67 L526.25,63.14 L526.5,64.5 L526.76,65.77 L527.03,66.89 L527.3,67.89 L527.6,68.8 L527.92,69.62 L528.25,70.34 L528.61,70.97 L529,71.5 L529.46,71.96 L529.97,72.34 L530.47,72.6 L530.9,72.7 L531.23,72.6 L531.51,72.34 L531.75,71.96 L532,71.5 L532.25,71.07 L532.48,70.63 L532.72,69.94 L533,68.8 L533.34,67.07 L533.71,64.89 L534.1,62.46 L534.5,60 L534.91,57.42 L535.33,54.67 L535.76,51.95 L536.2,49.5 L536.63,47.32 L537.05,45.3 L537.5,43.51 L538,42 L538.58,40.82 L539.21,39.92 L539.86,39.24 L540.5,38.7 L541.09,38.36 L541.66,38.23 L542.27,38.16 L543,38 L543.92,37.72 L544.97,37.39 L546.04,37.02 L547,36.6 L547.83,36.13 L548.6,35.6 L549.32,35.05 L550,34.5 L550.64,33.97 L551.22,33.44 L551.8,32.89 L552.4,32.3 L553.03,31.64 L553.68,30.92 L554.34,30.2 L555,29.5 L555.68,28.83 L556.37,28.17 L557.05,27.53 L557.7,26.9 L558.31,26.27 L558.89,25.66 L559.46,25.06 L560,24.5 L560.53,23.92 L561.05,23.34 L561.54,22.87 L562,22.6 L562.4,22.57 L562.76,22.72 L563.12,23.03 L563.5,23.5 L563.93,24.16 L564.39,25 L564.85,25.94 L565.3,26.9 L565.74,27.89 L566.17,28.95 L566.59,30.01 L567,31 L567.39,31.92 L567.76,32.81 L568.13,33.64 L568.5,34.4 L568.87,35.08 L569.24,35.69 L569.61,36.26 L570,36.8 L570.4,37.29 L570.8,37.73 L571.23,38.17 L571.7,38.7 L572.24,39.34 L572.83,40.06 L573.43,40.79 L574,41.5 L574.52,42.19 L575.02,42.87 L575.51,43.52 L576,44.1 L576.49,44.59 L576.98,45.02 L577.48,45.41 L578,45.8 L578.57,46.22 L579.17,46.64 L579.76,47.02 L580.3,47.3 L580.76,47.44 L581.17,47.48 L581.57,47.48 L582,47.5 L582.48,47.51 L582.99,47.5 L583.48,47.54 L583.9,47.7 L584.23,47.98 L584.51,48.35 L584.75,48.84 L585,49.5 L585.26,50.31 L585.51,51.26 L585.75,52.38 L586,53.7 L586.25,55.25 L586.49,56.99 L586.74,58.92 L587,61 L587.28,63.26 L587.58,65.71 L587.89,68.28 L588.2,70.9 L588.52,73.66 L588.85,76.56 L589.18,79.4 L589.5,82 L589.79,84.31 L590.07,86.43 L590.36,88.39 L590.7,90.2 L591.09,91.84 L591.52,93.31 L591.99,94.67 L592.5,96 L593.07,97.32 L593.68,98.6 L594.33,99.8 L595,100.9 L595.68,101.87 L596.38,102.74 L597.12,103.53 L597.9,104.3 L598.77,105.02 L599.7,105.67 L600.63,106.32 L601.5,107 L602.28,107.76 L603.01,108.58 L603.71,109.35 L604.4,110 L605.13,110.52 L605.88,110.94 L606.54,111.27 L607,111.5 L608,112 L609.11,113.02 L609.87,112.01 L610.97,113.04 L612.04,112.62 L612.92,114.7 L613.7,113.54 L614.57,113.94 L615.5,112.47 L616.56,119.09 L617.73,112.4 L618.44,117.94 L619.1,114.74 L620,121.35 L621.13,115.1 L622.04,119.07 L622.8,115.14 L623.53,117.4 L624.27,114.48 L624.9,117.63 L625.62,114.73 L626.72,114.16 L627.81,113.06 L629.1,110.8 L629.5,109.58 L630.08,107.82 L630.7,105.92 L631.2,104.3 L631.54,103.18 L631.81,102.31 L632.04,101.35 L632.3,100 L632.59,98.09 L632.89,95.82 L633.19,93.39 L633.5,91 L633.81,88.71 L634.12,86.4 L634.44,84.04 L634.8,81.6 L635.2,78.99 L635.64,76.26 L636.08,73.54 L636.5,71 L636.89,68.64 L637.26,66.38 L637.63,64.26 L638,62.3 L638.37,60.51 L638.74,58.89 L639.11,57.39 L639.5,56 L639.92,54.82 L640.38,53.83 L640.81,52.79 L641.2,51.5 L641.52,49.84 L641.79,47.94 L642.05,45.95 L642.3,44 L642.55,42.15 L642.79,40.31 L643.04,38.45 L643.3,36.5 L643.59,34.4 L643.9,32.19 L644.21,30.01 L644.5,28 L644.75,26.26 L644.98,24.69 L645.22,23.15 L645.5,21.5 L645.84,19.67 L646.21,17.75 L646.6,15.83 L647,14 L647.42,12.38 L647.86,10.88 L648.3,9.31 L648.7,7.5 L648.83,6.94 L648.77,7.22 L649,5.26 L650,-2 L652.02,-20.34 L654.77,-46.47 L657.88,-69.86 L661,-80 L664.41,-69.86 L668.17,-46.47 L671.6,-20.34 L674,-2 L674.97,4.18 L674.95,4.34 L674.53,3.71 L674.3,7.5 L674.35,18.08 L674.39,32.34 L674.44,47.31 L674.5,60 L674.59,70 L674.69,78.78 L674.8,86.17 L674.9,92 L674.98,95.62 L675.06,97.33 L675.15,98.37 L675.3,100 L675.51,102.63 L675.77,105.57 L676.07,108.43 L676.4,110.8 L676.76,112.49 L677.17,113.73 L677.59,114.81 L678,116 L678.41,117.41 L678.83,118.89 L679.24,120.29 L679.6,121.5 L679.91,122.44 L680.18,123.19 L680.44,123.85 L680.7,124.5 L680.98,125.17 L681.27,125.82 L681.55,126.41 L681.8,126.9 L682.04,127.29 L682.27,127.6 L682.46,127.83 L682.6,128" stroke="#ff0000"/>
</g>
<text x="54.5" y="27.6" font-size="17" font-weight="bold" fill="#000" text-anchor="start">a</text>
<text x="72.6" y="18.3" font-size="9.7" font-weight="bold" fill="#000" text-anchor="start" textLength="135" lengthAdjust="spacingAndGlyphs" stroke="#000" stroke-width="0.35">Luminescence from band edge</text>
<path d="M136.5,21V27.5" stroke="#000" stroke-width="1.3" fill="none"/>
<path d="M134.3,27.5L136.5,32L138.7,27.5Z" fill="#000"/>
<text x="153.8" y="33.6" font-size="9.7" font-weight="bold" fill="#000" text-anchor="start" textLength="86.6" lengthAdjust="spacingAndGlyphs" stroke="#000" stroke-width="0.35">Luminescence from</text>
<text x="168.5" y="45.2" font-size="9.7" font-weight="bold" fill="#000" text-anchor="start" textLength="56.5" lengthAdjust="spacingAndGlyphs" stroke="#000" stroke-width="0.35">defect states</text>
<path d="M195.5,46.8V50.3" stroke="#000" stroke-width="1.3" fill="none"/>
<path d="M193.3,50.3L195.5,54.8L197.7,50.3Z" fill="#000"/>
<text x="150.3" y="66.9" font-size="10.6" font-weight="bold" fill="#000" text-anchor="start" textLength="12.8" lengthAdjust="spacingAndGlyphs" stroke="#000" stroke-width="0.12">H5</text>
<text x="287.3" y="89.3" font-size="10.6" font-weight="bold" fill="#000" text-anchor="start" textLength="12.6" lengthAdjust="spacingAndGlyphs" stroke="#000" stroke-width="0.12">H3</text>
<text x="88.6" y="104.1" font-size="10.6" font-weight="bold" fill="#000" text-anchor="start" textLength="13.3" lengthAdjust="spacingAndGlyphs" stroke="#000" stroke-width="0.12">H7</text>
<text x="56.5" y="124.8" font-size="10.6" font-weight="bold" fill="#000" text-anchor="start" textLength="13.3" lengthAdjust="spacingAndGlyphs" stroke="#000" stroke-width="0.12">H9</text>
<text x="420.6" y="27.8" font-size="17" font-weight="bold" fill="#000" text-anchor="start">b</text>
<text x="422.3" y="65.9" font-size="10.6" font-weight="bold" fill="#000" text-anchor="start" textLength="13.1" lengthAdjust="spacingAndGlyphs" stroke="#000" stroke-width="0.12">H9</text>
<text x="454.4" y="57.3" font-size="10.6" font-weight="bold" fill="#000" text-anchor="start" textLength="13.2" lengthAdjust="spacingAndGlyphs" stroke="#000" stroke-width="0.12">H7</text>
<text x="516.9" y="28.7" font-size="10.6" font-weight="bold" fill="#000" text-anchor="start" textLength="13.0" lengthAdjust="spacingAndGlyphs" stroke="#000" stroke-width="0.12">H5</text>
<text x="653" y="89.2" font-size="10.6" font-weight="bold" fill="#000" text-anchor="start" textLength="13.0" lengthAdjust="spacingAndGlyphs" stroke="#000" stroke-width="0.12">H3</text>
<text x="518.2" y="89.2" font-size="9.7" font-weight="bold" fill="#000" text-anchor="start" textLength="61.8" lengthAdjust="spacingAndGlyphs" stroke="#000" stroke-width="0.35">Luminescence</text>
<text x="509" y="101.3" font-size="9.7" font-weight="bold" fill="#000" text-anchor="start" textLength="80.3" lengthAdjust="spacingAndGlyphs" stroke="#000" stroke-width="0.35">from defect states</text>
<text x="472.6" y="118.8" font-size="9.7" font-weight="bold" fill="#000" text-anchor="start" textLength="135" lengthAdjust="spacingAndGlyphs" stroke="#000" stroke-width="0.35">Luminescence from band edge</text>
<path d="M505.6,106.5V27.7" stroke="#000" stroke-width="1.3" fill="none"/>
<path d="M503.40000000000003,27.7L505.6,23.2L507.8,27.7Z" fill="#000"/>
<path d="M561.6,78V41.0" stroke="#000" stroke-width="1.3" fill="none"/>
<path d="M559.4,41.0L561.6,36.5L563.8000000000001,41.0Z" fill="#000"/>
<rect x="47.5" y="267.5" width="270.0" height="197.0" fill="none" stroke="#8c8c8c" stroke-width="1"/>
<path d="M47.5,464.5v-3M47.5,267.5v3M97.5,464.5v-3M97.5,267.5v3M132.5,464.5v-3M132.5,267.5v3M182.5,464.5v-3M182.5,267.5v3M217.5,464.5v-3M217.5,267.5v3M245.5,464.5v-3M245.5,267.5v3M294.5,464.5v-3M294.5,267.5v3" stroke="#8c8c8c" stroke-width="1" fill="none"/>
<path d="M47.5,436.5h3M317.5,436.5h-3M47.5,407.5h3M317.5,407.5h-3M47.5,379.5h3M317.5,379.5h-3M47.5,350.5h3M317.5,350.5h-3M47.5,322.5h3M317.5,322.5h-3M47.5,294.5h3M317.5,294.5h-3" stroke="#8c8c8c" stroke-width="1" fill="none"/>
<path d="M47.5,455.5h1.6M317.5,455.5h-1.6M47.5,450.5h1.6M317.5,450.5h-1.6M47.5,447.5h1.6M317.5,447.5h-1.6M47.5,444.5h1.6M317.5,444.5h-1.6M47.5,442.5h1.6M317.5,442.5h-1.6M47.5,440.5h1.6M317.5,440.5h-1.6M47.5,438.5h1.6M317.5,438.5h-1.6M47.5,437.5h1.6M317.5,437.5h-1.6M47.5,427.5h1.6M317.5,427.5h-1.6M47.5,422.5h1.6M317.5,422.5h-1.6M47.5,419.5h1.6M317.5,419.5h-1.6M47.5,416.5h1.6M317.5,416.5h-1.6M47.5,414.5h1.6M317.5,414.5h-1.6M47.5,412.5h1.6M317.5,412.5h-1.6M47.5,410.5h1.6M317.5,410.5h-1.6M47.5,408.5h1.6M317.5,408.5h-1.6M47.5,399.5h1.6M317.5,399.5h-1.6M47.5,394.5h1.6M317.5,394.5h-1.6M47.5,390.5h1.6M317.5,390.5h-1.6M47.5,387.5h1.6M317.5,387.5h-1.6M47.5,385.5h1.6M317.5,385.5h-1.6M47.5,383.5h1.6M317.5,383.5h-1.6M47.5,382.5h1.6M317.5,382.5h-1.6M47.5,380.5h1.6M317.5,380.5h-1.6M47.5,370.5h1.6M317.5,370.5h-1.6M47.5,365.5h1.6M317.5,365.5h-1.6M47.5,362.5h1.6M317.5,362.5h-1.6M47.5,359.5h1.6M317.5,359.5h-1.6M47.5,357.5h1.6M317.5,357.5h-1.6M47.5,355.5h1.6M317.5,355.5h-1.6M47.5,353.5h1.6M317.5,353.5h-1.6M47.5,352.5h1.6M317.5,352.5h-1.6M47.5,342.5h1.6M317.5,342.5h-1.6M47.5,337.5h1.6M317.5,337.5h-1.6M47.5,333.5h1.6M317.5,333.5h-1.6M47.5,331.5h1.6M317.5,331.5h-1.6M47.5,328.5h1.6M317.5,328.5h-1.6M47.5,326.5h1.6M317.5,326.5h-1.6M47.5,325.5h1.6M317.5,325.5h-1.6M47.5,323.5h1.6M317.5,323.5h-1.6M47.5,313.5h1.6M317.5,313.5h-1.6M47.5,308.5h1.6M317.5,308.5h-1.6M47.5,305.5h1.6M317.5,305.5h-1.6M47.5,302.5h1.6M317.5,302.5h-1.6M47.5,300.5h1.6M317.5,300.5h-1.6M47.5,298.5h1.6M317.5,298.5h-1.6M47.5,296.5h1.6M317.5,296.5h-1.6M47.5,295.5h1.6M317.5,295.5h-1.6M47.5,285.5h1.6M317.5,285.5h-1.6M47.5,280.5h1.6M317.5,280.5h-1.6M47.5,277.5h1.6M317.5,277.5h-1.6M47.5,274.5h1.6M317.5,274.5h-1.6M47.5,272.5h1.6M317.5,272.5h-1.6M47.5,270.5h1.6M317.5,270.5h-1.6M47.5,268.5h1.6M317.5,268.5h-1.6" stroke="#8c8c8c" stroke-width="1" fill="none"/>
<text x="47.5" y="483.6" font-size="14.8" text-anchor="middle" font-weight="normal" fill="#262626" >0.02</text>
<text x="97.28" y="483.6" font-size="14.8" text-anchor="middle" font-weight="normal" fill="#262626" >0.03</text>
<text x="132.6" y="483.6" font-size="14.8" text-anchor="middle" font-weight="normal" fill="#262626" >0.04</text>
<text x="182.38" y="483.6" font-size="14.8" text-anchor="middle" font-weight="normal" fill="#262626" >0.06</text>
<text x="217.7" y="483.6" font-size="14.8" text-anchor="middle" font-weight="normal" fill="#262626" >0.08</text>
<text x="245.1" y="483.6" font-size="14.8" text-anchor="middle" font-weight="normal" fill="#262626" >0.1</text>
<text x="294.88" y="483.6" font-size="14.8" text-anchor="middle" font-weight="normal" fill="#262626" >0.15</text>
<text x="42.5" y="444.2" font-size="14.8" text-anchor="end" fill="#262626">10<tspan font-size="10.8" dy="-7">1</tspan></text>
<text x="42.5" y="415.8" font-size="14.8" text-anchor="end" fill="#262626">10<tspan font-size="10.8" dy="-7">2</tspan></text>
<text x="42.5" y="387.4" font-size="14.8" text-anchor="end" fill="#262626">10<tspan font-size="10.8" dy="-7">3</tspan></text>
<text x="42.5" y="359" font-size="14.8" text-anchor="end" fill="#262626">10<tspan font-size="10.8" dy="-7">4</tspan></text>
<text x="42.5" y="330.6" font-size="14.8" text-anchor="end" fill="#262626">10<tspan font-size="10.8" dy="-7">5</tspan></text>
<text x="42.5" y="302.2" font-size="14.8" text-anchor="end" fill="#262626">10<tspan font-size="10.8" dy="-7">6</tspan></text>
<text x="182.5" y="508.6" font-size="16.3" text-anchor="middle" fill="#262626">Pump intensity, TW/cm<tspan font-size="11" dy="-8">2</tspan></text>
<rect x="412.5" y="267.5" width="270.0" height="197.0" fill="none" stroke="#8c8c8c" stroke-width="1"/>
<path d="M412.5,464.5v-3M412.5,267.5v3M455.5,464.5v-3M455.5,267.5v3M516.5,464.5v-3M516.5,267.5v3M560.5,464.5v-3M560.5,267.5v3M593.5,464.5v-3M593.5,267.5v3M655.5,464.5v-3M655.5,267.5v3" stroke="#8c8c8c" stroke-width="1" fill="none"/>
<path d="M412.5,402.5h3M682.5,402.5h-3M412.5,340.5h3M682.5,340.5h-3M412.5,278.5h3M682.5,278.5h-3" stroke="#8c8c8c" stroke-width="1" fill="none"/>
<path d="M412.5,445.5h1.6M682.5,445.5h-1.6M412.5,434.5h1.6M682.5,434.5h-1.6M412.5,427.5h1.6M682.5,427.5h-1.6M412.5,421.5h1.6M682.5,421.5h-1.6M412.5,416.5h1.6M682.5,416.5h-1.6M412.5,412.5h1.6M682.5,412.5h-1.6M412.5,408.5h1.6M682.5,408.5h-1.6M412.5,405.5h1.6M682.5,405.5h-1.6M412.5,383.5h1.6M682.5,383.5h-1.6M412.5,372.5h1.6M682.5,372.5h-1.6M412.5,365.5h1.6M682.5,365.5h-1.6M412.5,359.5h1.6M682.5,359.5h-1.6M412.5,354.5h1.6M682.5,354.5h-1.6M412.5,350.5h1.6M682.5,350.5h-1.6M412.5,346.5h1.6M682.5,346.5h-1.6M412.5,343.5h1.6M682.5,343.5h-1.6M412.5,321.5h1.6M682.5,321.5h-1.6M412.5,310.5h1.6M682.5,310.5h-1.6M412.5,303.5h1.6M682.5,303.5h-1.6M412.5,297.5h1.6M682.5,297.5h-1.6M412.5,292.5h1.6M682.5,292.5h-1.6M412.5,288.5h1.6M682.5,288.5h-1.6M412.5,284.5h1.6M682.5,284.5h-1.6M412.5,281.5h1.6M682.5,281.5h-1.6" stroke="#8c8c8c" stroke-width="1" fill="none"/>
<text x="412.5" y="483.6" font-size="14.8" text-anchor="middle" font-weight="normal" fill="#262626" >0.03</text>
<text x="455.85" y="483.6" font-size="14.8" text-anchor="middle" font-weight="normal" fill="#262626" >0.04</text>
<text x="516.96" y="483.6" font-size="14.8" text-anchor="middle" font-weight="normal" fill="#262626" >0.06</text>
<text x="560.31" y="483.6" font-size="14.8" text-anchor="middle" font-weight="normal" fill="#262626" >0.08</text>
<text x="593.94" y="483.6" font-size="14.8" text-anchor="middle" font-weight="normal" fill="#262626" >0.1</text>
<text x="655.04" y="483.6" font-size="14.8" text-anchor="middle" font-weight="normal" fill="#262626" >0.15</text>
<text x="407.5" y="472.6" font-size="14.8" text-anchor="end" fill="#262626">10<tspan font-size="10.8" dy="-7">1</tspan></text>
<text x="407.5" y="410.6" font-size="14.8" text-anchor="end" fill="#262626">10<tspan font-size="10.8" dy="-7">2</tspan></text>
<text x="407.5" y="348.6" font-size="14.8" text-anchor="end" fill="#262626">10<tspan font-size="10.8" dy="-7">3</tspan></text>
<text x="407.5" y="286.6" font-size="14.8" text-anchor="end" fill="#262626">10<tspan font-size="10.8" dy="-7">4</tspan></text>
<text x="547.5" y="508.6" font-size="16.3" text-anchor="middle" fill="#262626">Pump intensity, TW/cm<tspan font-size="11" dy="-8">2</tspan></text>
<text transform="translate(14.5,366.5) rotate(-90)" font-size="16.3" text-anchor="middle" fill="#262626">Signal yield, a. u.</text>
<text transform="translate(379.6,366.5) rotate(-90)" font-size="16.3" text-anchor="middle" fill="#262626">Signal yield, a. u.</text>
<g clip-path="url(#cc)">
<path d="M47.5,386.6L317.5,305.5" stroke="#ff00ff" stroke-width="1.3" fill="none"/>
<path d="M69.1,446.3L317.5,348.3" stroke="#ff0000" stroke-width="1.3" fill="none"/>
<path d="M163.1,465L317.5,366.7" stroke="#0000ff" stroke-width="1.3" fill="none"/>
<path d="M69.7,369.8L74.3,378.2L65.1,378.2Z" stroke="#ff00ff" stroke-width="1.2" fill="none" stroke-linejoin="miter"/>
<path d="M146.7,354.2L151.3,362.6L142.1,362.6Z" stroke="#ff00ff" stroke-width="1.2" fill="none" stroke-linejoin="miter"/>
<path d="M206.9,335.8L211.5,344.2L202.3,344.2Z" stroke="#ff00ff" stroke-width="1.2" fill="none" stroke-linejoin="miter"/>
<path d="M277.9,310.4L282.5,318.8L273.3,318.8Z" stroke="#ff00ff" stroke-width="1.2" fill="none" stroke-linejoin="miter"/>
<circle cx="76.7" cy="445.3" r="4.3" stroke="#ff0000" stroke-width="1.2" fill="none"/>
<circle cx="146.7" cy="414.3" r="4.3" stroke="#ff0000" stroke-width="1.2" fill="none"/>
<circle cx="206.9" cy="390" r="4.3" stroke="#ff0000" stroke-width="1.2" fill="none"/>
<circle cx="274.9" cy="364.8" r="4.3" stroke="#ff0000" stroke-width="1.2" fill="none"/>
<circle cx="305.3" cy="352.1" r="4.3" stroke="#ff0000" stroke-width="1.2" fill="none"/>
<circle cx="310.9" cy="350.8" r="4.3" stroke="#ff0000" stroke-width="1.2" fill="none"/>
<path d="M203.6,434.3L210.2,440.9M203.6,440.9L210.2,434.3" stroke="#0000ff" stroke-width="1.2" fill="none"/>
<path d="M274.4,388.9L281,395.5M274.4,395.5L281,388.9" stroke="#0000ff" stroke-width="1.2" fill="none"/>
<path d="M302.1,370L308.7,376.6M302.1,376.6L308.7,370" stroke="#0000ff" stroke-width="1.2" fill="none"/>
<path d="M307.6,367L314.2,373.6M307.6,373.6L314.2,367" stroke="#0000ff" stroke-width="1.2" fill="none"/>
</g>
<rect x="53.5" y="272" width="194.5" height="51.5" fill="#fff" stroke="#7a7a7a" stroke-width="1"/>
<path d="M57.7,275.5L64.3,282.1M57.7,282.1L64.3,275.5" stroke="#0000ff" stroke-width="1.2" fill="none"/>
<circle cx="61" cy="296" r="4.5" stroke="#ff0000" stroke-width="1.2" fill="none"/>
<path d="M61.25,308.85L66.25,317.55L56.25,317.55Z" stroke="#ff00ff" stroke-width="1.2" fill="none" stroke-linejoin="miter"/>
<text x="72.3" y="284" font-size="13.4" text-anchor="start" font-weight="normal" fill="#262626" >H7 bare</text>
<text x="72.3" y="301.4" font-size="13.4" text-anchor="start" font-weight="normal" fill="#262626" >H7 nanocone</text>
<text x="72.3" y="318.8" font-size="13.4" text-anchor="start" font-weight="normal" fill="#262626" >Lum. nanocone</text>
<path d="M167.4,279.4H186.8" stroke="#0000ff" stroke-width="1.3"/>
<text x="186.9" y="284" font-size="13.4" text-anchor="start" font-weight="normal" fill="#262626" >fit, q = 6.4</text>
<path d="M167.4,296.8H186.8" stroke="#ff0000" stroke-width="1.3"/>
<text x="186.9" y="301.4" font-size="13.4" text-anchor="start" font-weight="normal" fill="#262626" >fit, q = 3.9</text>
<path d="M167.4,314.2H186.8" stroke="#ff00ff" stroke-width="1.3"/>
<text x="186.9" y="318.8" font-size="13.4" text-anchor="start" font-weight="normal" fill="#262626" >fit, q = 3.1</text>
<text x="295.4" y="289.9" font-size="17" font-weight="bold" fill="#000" text-anchor="start">c</text>
<g clip-path="url(#cd)">
<path d="M445.7,465L682.5,278.7" stroke="#ff0000" stroke-width="1.3" fill="none"/>
<path d="M595.8,465L682.5,331.4" stroke="#0000ff" stroke-width="1.3" fill="none"/>
<circle cx="473.2" cy="441.3" r="4" stroke="#ff0000" stroke-width="2" fill="none"/>
<circle cx="546.8" cy="391.3" r="4" stroke="#ff0000" stroke-width="2" fill="none"/>
<circle cx="633.7" cy="321.6" r="4" stroke="#ff0000" stroke-width="2" fill="none"/>
<circle cx="667.3" cy="287.3" r="4" stroke="#ff0000" stroke-width="2" fill="none"/>
<circle cx="673.9" cy="285.3" r="4" stroke="#ff0000" stroke-width="2" fill="none"/>
<path d="M630.7,405.4L636.7,411.4M630.7,411.4L636.7,405.4" stroke="#0000ff" stroke-width="2" fill="none"/>
<path d="M664.3,350.7L670.3,356.7M664.3,356.7L670.3,350.7" stroke="#0000ff" stroke-width="2" fill="none"/>
<path d="M670.9,340.9L676.9,346.9M670.9,346.9L676.9,340.9" stroke="#0000ff" stroke-width="2" fill="none"/>
</g>
<rect x="417.7" y="273.3" width="105.5" height="70.1" fill="#fff" stroke="#7a7a7a" stroke-width="1"/>
<path d="M428,280.7L434,286.7M428,286.7L434,280.7" stroke="#0000ff" stroke-width="2" fill="none"/>
<circle cx="431" cy="300.6" r="4" stroke="#ff0000" stroke-width="2" fill="none"/>
<path d="M421,318.2H440.4" stroke="#0000ff" stroke-width="1.3"/>
<path d="M421,335.5H440.4" stroke="#ff0000" stroke-width="1.3"/>
<text x="441.8" y="289" font-size="13.4" text-anchor="start" font-weight="normal" fill="#262626" >H9 bare</text>
<text x="441.8" y="305.9" font-size="13.4" text-anchor="start" font-weight="normal" fill="#262626" >H9 nanocone</text>
<text x="441.8" y="323" font-size="13.4" text-anchor="start" font-weight="normal" fill="#262626" >fit q = 8.7</text>
<text x="441.8" y="340.3" font-size="13.4" text-anchor="start" font-weight="normal" fill="#262626" >fit q = 4.4</text>
<text x="534.5" y="290.2" font-size="17" font-weight="bold" fill="#000" text-anchor="start">d</text>
</svg>
</body></html>
